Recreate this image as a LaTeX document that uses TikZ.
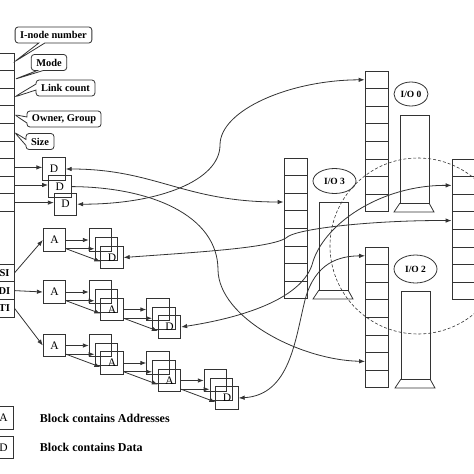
\documentclass[tikz,border=0pt]{standalone}
\usepackage{fontspec}
\setmainfont{Liberation Serif}
\usepackage{tikz}
\usetikzlibrary{positioning}
\usetikzlibrary{calc}
\usetikzlibrary{arrows.meta}
\usetikzlibrary{shapes.geometric,shapes.callouts}

\begin{document}
\begin{tikzpicture}[x=1pt, y=-1pt,
  ink/.style={draw=black!80, line width=0.8pt},
  cell/.style={ink, minimum width=23pt, minimum height=17.6pt, inner sep=0pt},
  ptr/.style={cell, minimum width=19pt, font=\bfseries\fontsize{10.5}{11}\selectfont},
  blk/.style={ink, minimum size=22.5pt, inner sep=0pt, font=\fontsize{11.5}{12}\selectfont},
  tag/.style={ink, ellipse, inner sep=0pt, font=\bfseries\fontsize{9.5}{10}\selectfont},
  note/.style={ink, rectangle callout, rounded corners=3pt, callout pointer width=6pt, inner xsep=5pt, inner ysep=0pt, minimum height=16pt, font=\bfseries\fontsize{10.4}{11}\selectfont},
  arr/.style={ink, -{Latex[length=6pt,width=4.5pt]}},
  conn/.style={ink, {Latex[length=6pt,width=4.5pt]}-{Latex[length=6pt,width=4.5pt]}}]
\useasboundingbox (0,0) rectangle (474,474);
\clip (0,0) rectangle (474,474);

\foreach \k in {1,...,9}
  \node [cell] (ino\k) at (2.5,44.2+17.6*\k) {};
\node [cell, minimum height=52.8pt] (inogap) at (2.5,237.8) {};
\node [ptr] (si) at (4.5,273) {SI};
\node [ptr] (di) at (4.5,290.6) {DI};
\node [ptr] (ti) at (4.5,308.2) {TI};

\node [note, callout absolute pointer={(ino1.east)}] (cnum) at (53.5,35) {I-node number};
\node [note, callout absolute pointer={(ino2.east)}] (cmode) at (49,62.5) {Mode};
\node [note, callout absolute pointer={(ino3.east)}] (clink) at (65.5,88) {Link count};
\node [note, callout absolute pointer={(ino4.east)}] (cown) at (64,119) {Owner, Group};
\node [note, callout absolute pointer={(ino5.east)}] (csize) at (40,141.5) {Size};

\node [blk] (dir1) at (54,169) {D};
\node [blk] (dir2) at (59.75,186.6) {D};
\node [blk] (dir3) at (65.5,204.2) {D};
\foreach \k/\d in {7/dir1, 8/dir2, 9/dir3}
  \draw [arr] (ino\k.east) -- (ino\k.east -| \d.west);

\node [blk] (sia) at (54.5,240) {A};
\node [blk] (dia) at (54.5,292) {A};
\node [blk] (tia) at (54.5,345.5) {A};
\draw [arr] (si.east) -- (sia.west);
\draw [arr] (di.east) -- (dia.west);
\draw [arr] (ti.east) -- (tia.west);

\foreach \g/\src/\px/\py/\txt in {si1/sia/100.5/240/D, di1/dia/100.5/292/A, di2/di1-3/158/309.5/D,
    ti1/tia/100.5/345.5/A, ti2/ti1-3/158/363/A, ti3/ti2-3/215.5/380.5/D} {
  \node [blk] (\g-1) at (\px,\py) {};
  \node [blk] (\g-2) at (\px+5.75,\py+8.75) {};
  \node [blk] (\g-3) at (\px+11.5,\py+17.5) {\txt};
  \draw [arr] (\src.east) -- (\g-1.west);
  \draw [arr] ($(\src.east)+(0,8.75)$) -- (\g-2.west);
  \draw [arr] ($(\src.east)+(0,8.75)$) -- ($(\g-3.west)+(0,4)$);
}

\foreach \n/\px/\py in {0/376.5/71, 3/295.5/158, 2/377/247, 1/463.5/159}
  \foreach \k in {1,...,8}
    \node [cell] (q\n-\k) at (\px,\py+17.6*\k-8.8) {};

\foreach \n/\px/\py/\cx/\cy/\w/\h in {0/388/71/411/94/34/24, 3/307/158/334.5/181/43/25, 2/389/247/415.5/269/43/28} {
  \draw [ink] (\px+12,\py+44) rectangle (\px+41,\py+132);
  \draw [ink] (\px+12,\py+132) -- (\px+6,\py+141) -- (\px+46,\py+141) -- (\px+41,\py+132);
  \node [tag, minimum width=\w pt, minimum height=\h pt] (io\n) at (\cx,\cy) {I/O \n};
}

\draw [ink, line width=0.6pt, dash pattern=on 3pt off 2pt] (418,246) circle (88pt);

\draw [conn] (dir1.east) .. controls +(90,0) and +(-100,0) .. (q3-3.west);
\draw [conn] (dir3.east) .. controls +(83,0) and (220,180) .. (220,145) .. controls (220,110) and (290,80) .. (q0-1.west);
\draw [arr] (dir2.east) .. controls (150,187) and (218,215) .. (218,270) .. controls (219,318) and (300,360) .. (q2-7.west);
\draw [conn] (si1-3.east) .. controls (200,252) and (270,248) .. (286,238) .. controls (295,228) and (380,220) .. (q1-4.west);
\draw [conn] (di2-3.east) .. controls (240,318) and (300,300) .. (312,265) .. controls (322,225) and (380,185) .. (q1-2.west);
\draw [conn] (ti3-3.east) .. controls (290,395) and (295,340) .. (305,300) .. controls (315,262) and (340,256) .. (q2-1.west);

\node [blk, minimum width=19pt] (keya) at (3.5,418) {A};
\node [blk, minimum width=19pt] (keyd) at (3.5,447.5) {D};
\node [right=23pt of keya, font=\bfseries\fontsize{12}{14}\selectfont] (keyatxt) {Block contains Addresses};
\node [right=23pt of keyd, font=\bfseries\fontsize{12}{14}\selectfont] (keydtxt) {Block contains Data};
\end{tikzpicture}
\end{document}
